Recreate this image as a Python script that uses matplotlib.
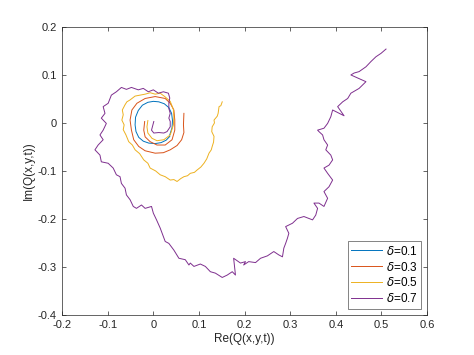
import numpy as np
import matplotlib
matplotlib.use("Agg")
import matplotlib.pyplot as plt

# delta = 0.1 (near-closed loop)
x1 = [0.036, 0.041, 0.042, 0.040, 0.034, 0.024, 0.012, 0.000, -0.012, -0.024, -0.033,
      -0.039, -0.040, -0.038, -0.032, -0.022, -0.010, 0.004, 0.017, 0.028, 0.036]
y1 = [-0.025, -0.010, 0.005, 0.020, 0.032, 0.040, 0.044, 0.045, 0.043, 0.037, 0.026,
      0.012, -0.004, -0.018, -0.030, -0.038, -0.042, -0.043, -0.041, -0.036, -0.028]

# delta = 0.3
x2 = [-0.019, -0.021, -0.018, -0.007, 0.008, 0.026, 0.041, 0.047, 0.047, 0.045, 0.037,
      0.026, 0.004, -0.018, -0.036, -0.047, -0.051, -0.048, -0.043, -0.032, -0.018,
      0.004, 0.022, 0.037, 0.052, 0.062, 0.067, 0.066, 0.067]
y2 = [0.003, -0.015, -0.029, -0.039, -0.046, -0.046, -0.035, -0.015, 0.006, 0.027, 0.041,
      0.051, 0.055, 0.051, 0.041, 0.027, 0.006, -0.015, -0.035, -0.049, -0.058,
      -0.063, -0.062, -0.056, -0.047, -0.035, -0.020, -0.004, 0.020]

# delta = 0.5, (re, im) pairs
q3 = [(-0.012, 0.005), (-0.014, -0.008), (-0.012, -0.021), (-0.003, -0.032), (0.008, -0.037),
      (0.023, -0.035), (0.037, -0.025), (0.044, -0.004), (0.045, 0.012), (0.044, 0.028),
      (0.037, 0.045), (0.025, 0.055), (0.015, 0.062), (0.004, 0.060), (-0.007, 0.063),
      (-0.018, 0.060), (-0.029, 0.058), (-0.040, 0.056), (-0.051, 0.048), (-0.058, 0.044),
      (-0.062, 0.038), (-0.068, 0.027), (-0.066, 0.017), (-0.069, 0.006), (-0.064, -0.004),
      (-0.066, -0.014), (-0.060, -0.025), (-0.054, -0.039), (-0.046, -0.046), (-0.040, -0.056),
      (-0.030, -0.064), (-0.021, -0.077), (-0.012, -0.084), (-0.007, -0.094), (0.005, -0.100),
      (0.015, -0.108), (0.026, -0.112), (0.037, -0.119), (0.045, -0.118), (0.052, -0.122),
      (0.060, -0.116), (0.067, -0.112), (0.075, -0.110), (0.081, -0.105), (0.090, -0.103),
      (0.096, -0.098), (0.104, -0.092), (0.111, -0.084), (0.117, -0.075), (0.122, -0.063),
      (0.127, -0.056), (0.129, -0.049), (0.132, -0.040), (0.133, -0.028), (0.128, -0.018),
      (0.129, -0.008), (0.134, 0.000), (0.133, 0.006), (0.140, 0.014), (0.142, 0.020),
      (0.144, 0.034), (0.148, 0.036), (0.151, 0.044)]

# delta = 0.7, (re, im) pairs
q4 = [(0.001, 0.003), (-0.004, -0.015), (0.001, -0.021), (0.012, -0.020), (0.023, -0.021),
      (0.030, -0.018), (0.037, -0.008), (0.037, 0.003), (0.034, 0.010), (0.037, 0.020),
      (0.034, 0.030), (0.034, 0.041), (0.036, 0.052), (0.033, 0.062), (0.022, 0.065),
      (0.011, 0.062), (0.000, 0.069), (-0.011, 0.065), (-0.022, 0.072), (-0.033, 0.069),
      (-0.048, 0.074), (-0.059, 0.070), (-0.070, 0.074), (-0.081, 0.065), (-0.092, 0.058),
      (-0.099, 0.041), (-0.110, 0.034), (-0.106, 0.020), (-0.114, 0.010), (-0.103, -0.001),
      (-0.110, -0.015), (-0.117, -0.025), (-0.110, -0.035), (-0.121, -0.046), (-0.128, -0.056),
      (-0.117, -0.067), (-0.114, -0.081), (-0.099, -0.084), (-0.088, -0.094), (-0.081, -0.108),
      (-0.073, -0.112), (-0.070, -0.126), (-0.062, -0.136), (-0.059, -0.150), (-0.051, -0.160),
      (-0.044, -0.174), (-0.037, -0.178), (-0.026, -0.171), (-0.018, -0.178), (-0.004, -0.174),
      (0.000, -0.188), (0.007, -0.202), (0.015, -0.219), (0.026, -0.247), (0.034, -0.251),
      (0.045, -0.265), (0.056, -0.282), (0.070, -0.285), (0.078, -0.296), (0.081, -0.292),
      (0.089, -0.299), (0.103, -0.294), (0.114, -0.299), (0.125, -0.310), (0.136, -0.313),
      (0.151, -0.322), (0.162, -0.317), (0.173, -0.310), (0.180, -0.317), (0.176, -0.282),
      (0.191, -0.292), (0.202, -0.289), (0.198, -0.296), (0.209, -0.289), (0.224, -0.291),
      (0.235, -0.282), (0.250, -0.277), (0.264, -0.268), (0.275, -0.275), (0.283, -0.279),
      (0.286, -0.261), (0.290, -0.251), (0.294, -0.240), (0.297, -0.230), (0.290, -0.216),
      (0.305, -0.209), (0.316, -0.199), (0.330, -0.195), (0.349, -0.202), (0.356, -0.192),
      (0.360, -0.178), (0.352, -0.167), (0.363, -0.167), (0.374, -0.174), (0.382, -0.157),
      (0.374, -0.143), (0.385, -0.133), (0.393, -0.119), (0.382, -0.105), (0.374, -0.094),
      (0.385, -0.088), (0.393, -0.077), (0.389, -0.067), (0.378, -0.056), (0.382, -0.046),
      (0.374, -0.035), (0.371, -0.025), (0.363, -0.018), (0.360, -0.015), (0.374, -0.011),
      (0.382, -0.001), (0.389, 0.013), (0.393, 0.027), (0.418, 0.015), (0.404, 0.034),
      (0.415, 0.044), (0.426, 0.051), (0.433, 0.062), (0.451, 0.072), (0.466, 0.086),
      (0.433, 0.100), (0.440, 0.104), (0.451, 0.107), (0.466, 0.117), (0.477, 0.128),
      (0.488, 0.138), (0.499, 0.145), (0.510, 0.154)]

x3, y3 = np.array(q3).T
x4, y4 = np.array(q4).T

labels = ["0.1", "0.3", "0.5", "0.7"]
colors = ["#0072BD", "#D95319", "#EDB120", "#7E2F8E"]

plt.rcParams['font.family'] = ['Liberation Sans', 'DejaVu Sans']
fig = plt.figure(figsize=(4.74, 3.55), dpi=100)
ax = fig.add_axes([0.131, 0.113, 0.770, 0.811])

for xs, ys, lab, c in zip([x1, x2, x3, x4], [y1, y2, y3, y4], labels, colors):
    ax.plot(xs, ys, color=c, lw=0.7, label=r'$\delta$=' + lab)

ax.set_xlim(-0.2, 0.6)
ax.set_ylim(-0.4, 0.2)
ax.set_xticks(np.arange(-0.2, 0.61, 0.1))
ax.set_yticks(np.arange(-0.4, 0.21, 0.1))
ax.set_xticklabels(["-0.2", "-0.1", "0", "0.1", "0.2", "0.3", "0.4", "0.5", "0.6"])
ax.set_yticklabels(["-0.4", "-0.3", "-0.2", "-0.1", "0", "0.1", "0.2"])
ax.tick_params(direction='in', top=True, right=True, length=3, width=0.5,
               labelsize=8, colors='#262626', pad=4)
for s in ax.spines.values():
    s.set_linewidth(0.5)
    s.set_color('#262626')
ax.set_xlabel('Re(Q(x,y,t))', fontsize=8.5, color='#262626', labelpad=2)
ax.set_ylabel('Im(Q(x,y,t))', fontsize=8.5, color='#262626', labelpad=2)

leg = ax.legend(loc='lower right', fontsize=8.5, frameon=True, fancybox=False,
                borderaxespad=0.5, handlelength=2.6, handletextpad=0.3,
                labelspacing=0.25, borderpad=0.3)
leg.get_frame().set_edgecolor('#262626')
leg.get_frame().set_linewidth(0.5)

fig.savefig('out.png', dpi=100)
